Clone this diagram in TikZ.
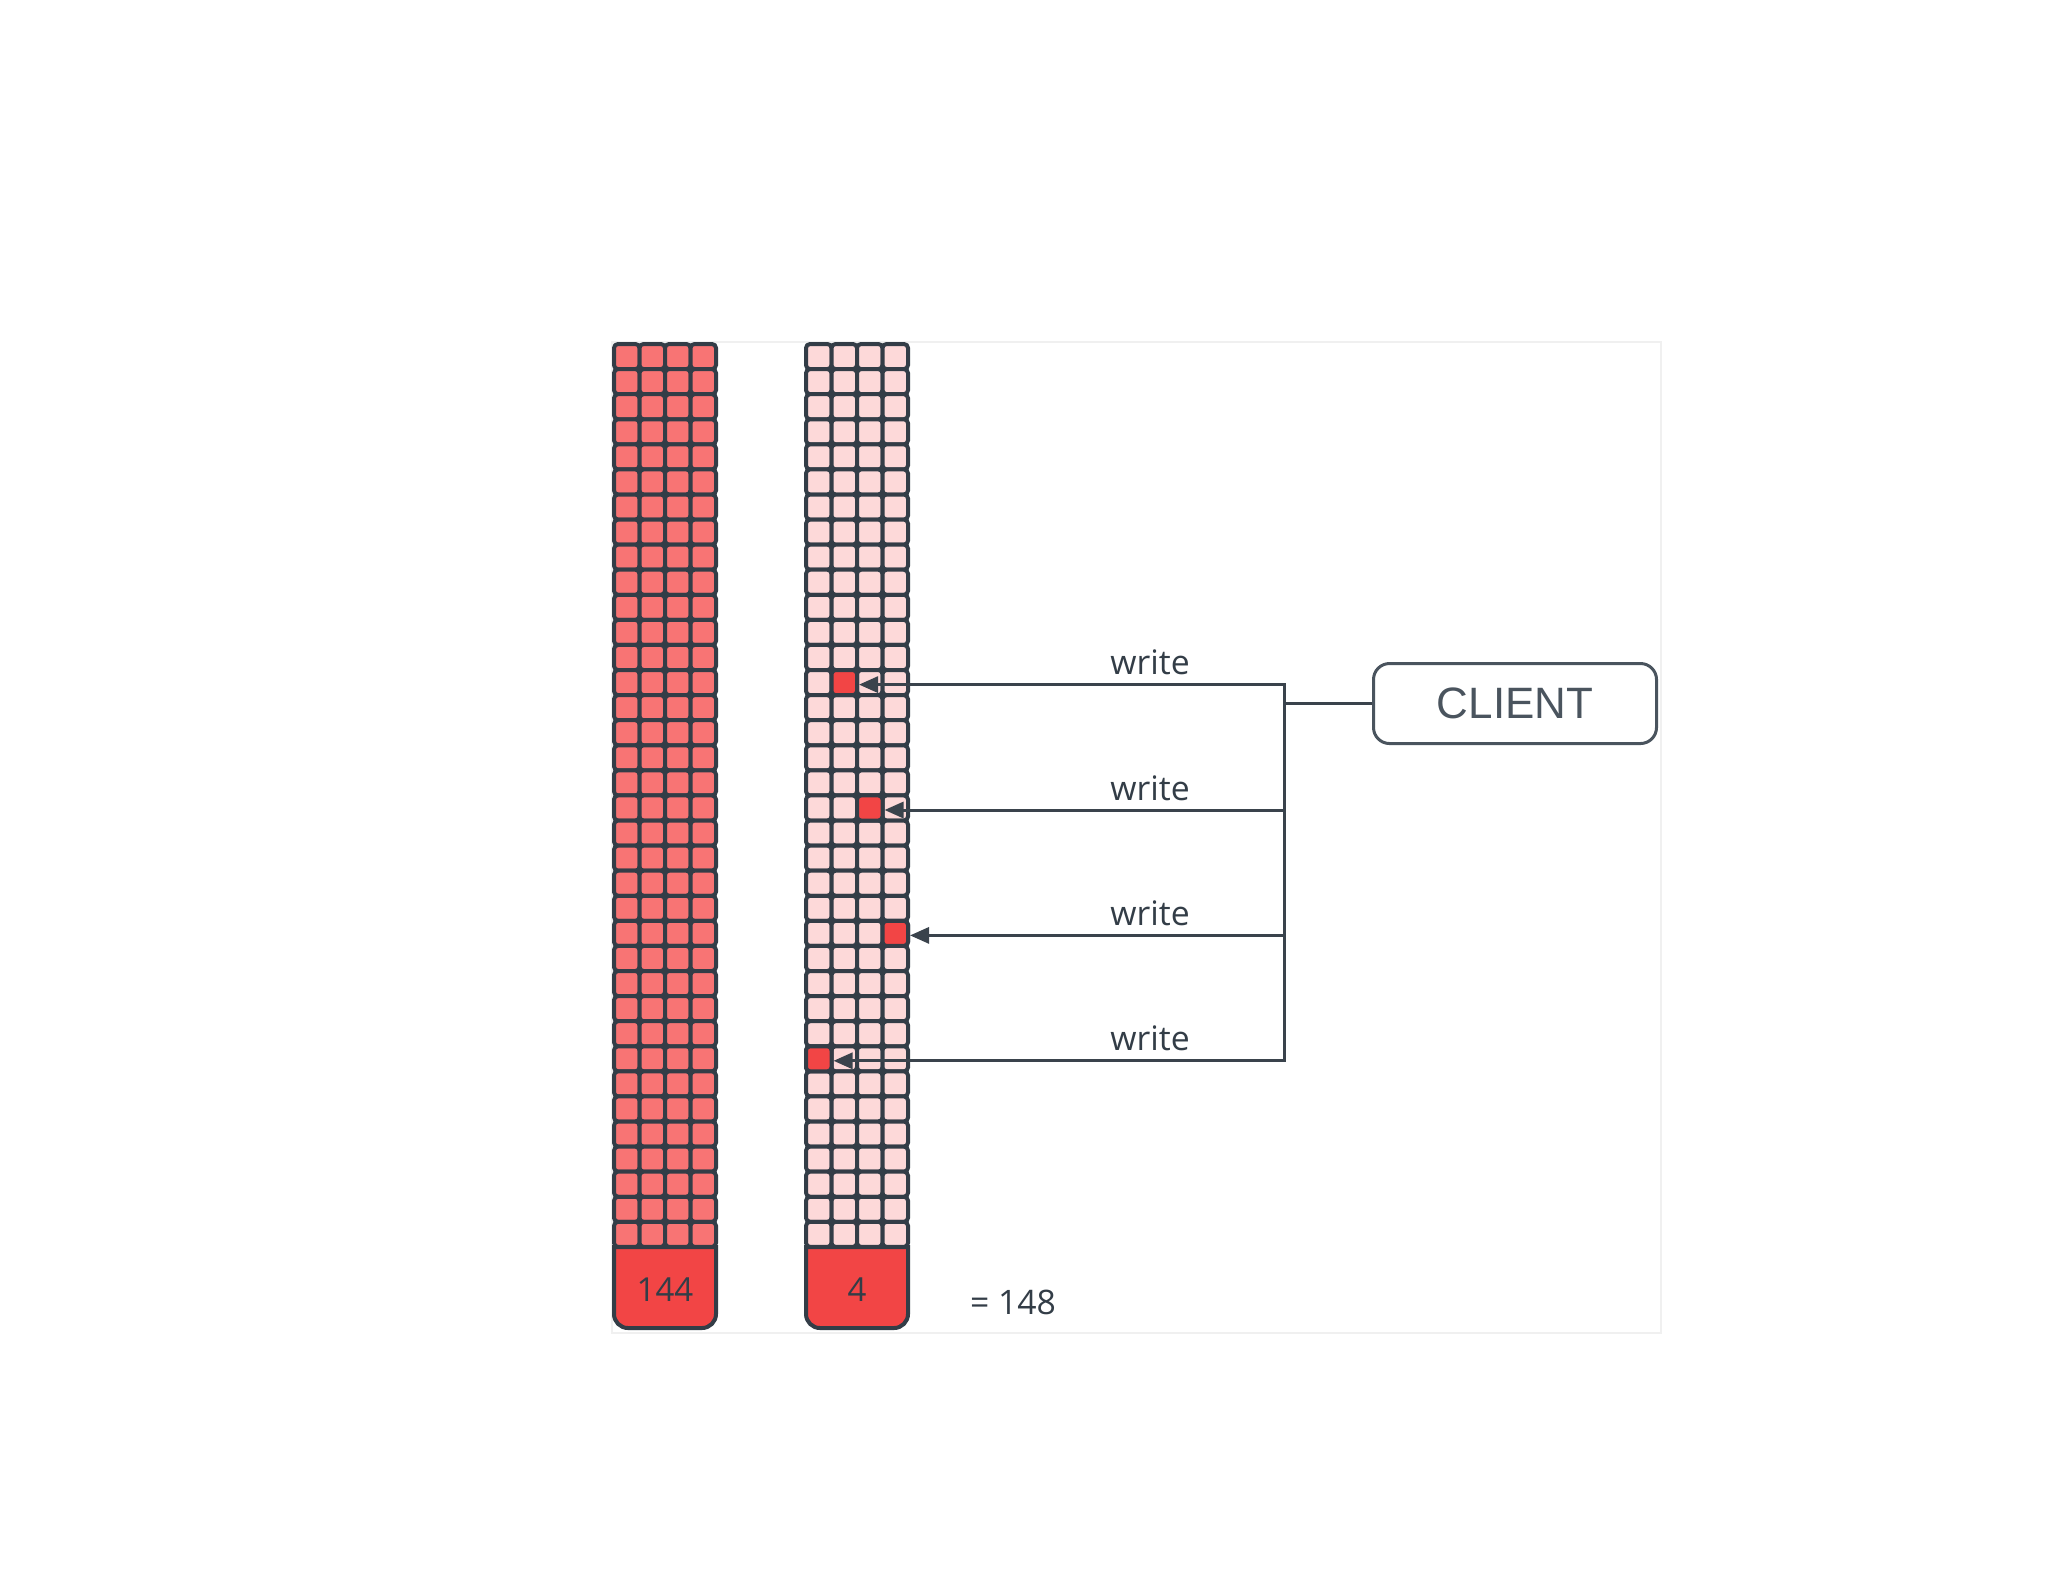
\documentclass[tikz,border=0pt]{standalone}
\usepackage{fontspec}
\setmainfont{Open Sans}
\newfontfamily\clientfont{Liberation Sans}
\usetikzlibrary{calc,arrows.meta}

\definecolor{ink}{HTML}{333D47}
\definecolor{wireink}{HTML}{3A434C}
\definecolor{clientink}{HTML}{4A545E}
\definecolor{hotcell}{HTML}{F87474}
\definecolor{coldcell}{HTML}{FDD9D9}
\definecolor{hotred}{HTML}{F24545}

\tikzset{
  cell/.style={draw=ink, line width=0.4mm, rounded corners=0.4mm,
    inner sep=0pt, minimum width=2.55mm, minimum height=2.508mm},
  wire/.style={draw=wireink, line width=0.3mm},
  writelabel/.style={anchor=base, text=ink, font=\fontsize{9.6}{11}\selectfont},
}

\begin{document}
\begin{tikzpicture}[x=0.1mm, y=-0.1mm, >={Triangle[length=1.9mm,width=1.6mm]}]
  \useasboundingbox (0,0) rectangle (2048,1582);
  \draw[black!6, line width=0.2mm] (612,342) rectangle (1661,1333);

  % two columns of 36x4 chunks, each with its counter box
  \foreach \col/\xo/\cellcol/\tally in {L/614/hotcell/144, R/806/coldcell/4} {
    \draw[ink, line width=0.4mm, fill=hotred]
      ({\xo+51},1247) -- (\xo,1247) -- (\xo,1280) [rounded corners=1.4mm]
      -- (\xo,1328) -- ({\xo+102},1328) -- ({\xo+102},1280) [sharp corners]
      -- ({\xo+102},1247) -- cycle;
    \node[text=ink, font=\fontsize{9.4}{11}\selectfont] (\col-sum) at ({\xo+51},1290) {\tally};
    \foreach \r in {1,...,36}
      \foreach \c in {1,...,4}
        \node[cell, fill=\cellcol] (\col-\r-\c) at ({\xo+(\c-0.5)*25.5},{344+(\r-0.5)*25.08}) {};
  }

  \node[draw=clientink, line width=0.3mm, rounded corners=1.6mm,
    minimum width=28.3mm, minimum height=8mm, text=clientink,
    font=\clientfont\fontsize{12.5}{14}\selectfont] (client) at (1515,703.5) {CLIENT};
  \coordinate (hub) at ($(client.west)+(-88,0)$);
  \draw[wire] (client.west) -- (hub);

  % the four writes
  \foreach \n/\r/\c in {1/14/2, 2/19/3, 3/24/4, 4/29/1} {
    \node[cell, fill=hotred] (hit-\n) at (R-\r-\c) {};
    \coordinate (bus-\n) at ($(hub |- hit-\n)+(0,2)$);
    \draw[wire, ->] (bus-\n) -- (hit-\n.east |- bus-\n);
    \node[writelabel] (write-\n) at ($(bus-\n)+(-134,-10)$) {write};
  }
  \draw[wire, line cap=rect] (bus-1) -- (bus-4);

  \node[text=ink, font=\fontsize{9.6}{12}\selectfont] (total) at (1013,1302) {= 148};
\end{tikzpicture}
\end{document}
